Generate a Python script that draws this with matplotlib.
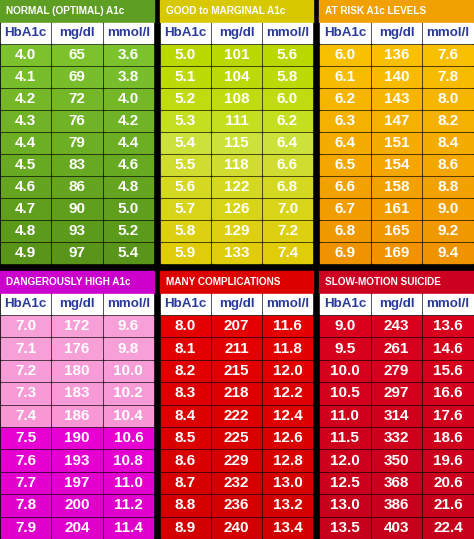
import matplotlib.pyplot as plt
from matplotlib.patches import Rectangle

plt.rcParams['font.family'] = ['Liberation Sans', 'DejaVu Sans']

W, H = 474, 539

titles = ["NORMAL (OPTIMAL) A1c", "GOOD to MARGINAL A1c", "AT RISK A1c LEVELS",
          "DANGEROUSLY HIGH A1c", "MANY COMPLICATIONS", "SLOW-MOTION SUICIDE"]
headers = ["HbA1c", "mg/dl", "mmol/l"]

hba1c = [
    ["4.0", "4.1", "4.2", "4.3", "4.4", "4.5", "4.6", "4.7", "4.8", "4.9"],
    ["5.0", "5.1", "5.2", "5.3", "5.4", "5.5", "5.6", "5.7", "5.8", "5.9"],
    ["6.0", "6.1", "6.2", "6.3", "6.4", "6.5", "6.6", "6.7", "6.8", "6.9"],
    ["7.0", "7.1", "7.2", "7.3", "7.4", "7.5", "7.6", "7.7", "7.8", "7.9"],
    ["8.0", "8.1", "8.2", "8.3", "8.4", "8.5", "8.6", "8.7", "8.8", "8.9"],
    ["9.0", "9.5", "10.0", "10.5", "11.0", "11.5", "12.0", "12.5", "13.0", "13.5"],
]
mgdl = [
    [65, 69, 72, 76, 79, 83, 86, 90, 93, 97],
    [101, 104, 108, 111, 115, 118, 122, 126, 129, 133],
    [136, 140, 143, 147, 151, 154, 158, 161, 165, 169],
    [172, 176, 180, 183, 186, 190, 193, 197, 200, 204],
    [207, 211, 215, 218, 222, 225, 229, 232, 236, 240],
    [243, 261, 279, 297, 314, 332, 350, 368, 386, 403],
]
mmol = [
    ["3.6", "3.8", "4.0", "4.2", "4.4", "4.6", "4.8", "5.0", "5.2", "5.4"],
    ["5.6", "5.8", "6.0", "6.2", "6.4", "6.6", "6.8", "7.0", "7.2", "7.4"],
    ["7.6", "7.8", "8.0", "8.2", "8.4", "8.6", "8.8", "9.0", "9.2", "9.4"],
    ["9.6", "9.8", "10.0", "10.2", "10.4", "10.6", "10.8", "11.0", "11.2", "11.4"],
    ["11.6", "11.8", "12.0", "12.2", "12.4", "12.6", "12.8", "13.0", "13.2", "13.4"],
    ["13.6", "14.6", "15.6", "16.6", "17.6", "18.6", "19.6", "20.6", "21.6", "22.4"],
]

title_colors = ["#5e9e22", "#d8c800", "#f0a000", "#cc00cc", "#dd0000", "#cc0020"]
row_colors = [
    ["#7cc22c", "#78bd2a", "#74b828", "#70b326", "#6cae24", "#68a922", "#64a420", "#609f1e", "#5c9a1c", "#58951a"],
    ["#b8d800", "#bcda08", "#c0dc10", "#c4de20", "#cce23a", "#d0dc30", "#d4d820", "#d8d418", "#dcd010", "#e0cc08"],
    ["#f8c000", "#f7bb00", "#f6b600", "#f5b100", "#f4ac00", "#f3a700", "#f2a200", "#f19d00", "#f09800", "#ef9300"],
    ["#f7a0d8", "#f7a0d8", "#f79cd6", "#f79ad6", "#f798d4", "#e600d2", "#e400d0", "#e200ce", "#e000cc", "#de00ca"],
    ["#e40000", "#e20000", "#e00000", "#de0000", "#dc0000", "#da0000", "#d80000", "#d60000", "#d40000", "#d20000"],
    ["#d8001c", "#d6001c", "#d4001c", "#d2001c", "#d0001c", "#ce001c", "#cc001c", "#ca001c", "#c8001c", "#c6001c"],
]

panel_x = [(0, 154), (160, 313), (319, 474)]
panel_y = [(0, 22, 44, 264), (271, 293, 315, 539)]

fig = plt.figure(figsize=(W / 100, H / 100), dpi=100)
ax = fig.add_axes([0, 0, 1, 1])
ax.set_xlim(0, W)
ax.set_ylim(H, 0)
ax.axis('off')
fig.patch.set_facecolor('black')

for p in range(6):
    x0, x1 = panel_x[p % 3]
    ty, hy, ry, by = panel_y[p // 3]
    ax.add_patch(Rectangle((x0, ty), x1 - x0, hy - ty, color=title_colors[p]))
    ax.text(x0 + 6, (ty + hy) / 2, titles[p], color='white', fontsize=7.2,
            fontweight='bold', va='center', ha='left')
    cw = (x1 - x0) / 3
    for c in range(3):
        ax.add_patch(Rectangle((x0 + c * cw + 1, hy + 1), cw - 2, ry - hy - 2,
                               color='white'))
        ax.text(x0 + (c + 0.5) * cw, (hy + ry) / 2, headers[c], color='#2a3a9a',
                fontsize=9.6, fontweight='bold', ha='center', va='center')
    rh = (by - ry) / 10
    for r in range(10):
        vals = [hba1c[p][r], str(mgdl[p][r]), mmol[p][r]]
        for c in range(3):
            ax.add_patch(Rectangle((x0 + c * cw + 1, ry + r * rh + 1), cw - 2, rh - 2,
                                   color=row_colors[p][r]))
            ax.text(x0 + (c + 0.5) * cw, ry + (r + 0.5) * rh, vals[c], color='white',
                    fontsize=11, fontweight='bold', ha='center', va='center')

fig.savefig('out.png', dpi=100, facecolor='black')
